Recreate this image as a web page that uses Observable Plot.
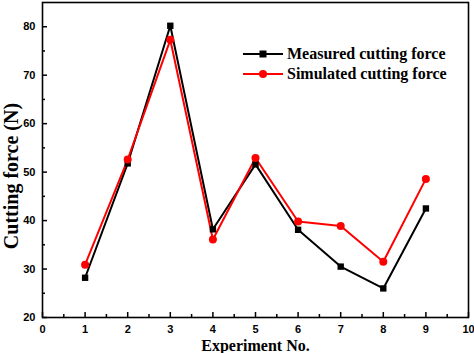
<!DOCTYPE html>
<html><head><meta charset="utf-8">
<script src="https://cdn.jsdelivr.net/npm/d3@7"></script>
<script src="https://cdn.jsdelivr.net/npm/@observablehq/plot@0.6"></script>
<style>
body{margin:0;background:#fff}
#wrap{position:relative;width:474px;height:353px}
.leg{position:absolute;left:243px;height:20px;font:bold 16px "Liberation Serif","Times New Roman",serif;display:flex;align-items:center;white-space:nowrap;color:#000}
.leg svg{margin-right:4px}
</style></head><body><div id="wrap"></div>
<script>
const experiments = [1, 2, 3, 4, 5, 6, 7, 8, 9];
const measured  = [28.2, 51.8, 80.2, 38.2, 51.6, 38.1, 30.5, 26.0, 42.5];
const simulated = [30.9, 52.6, 77.3, 36.1, 52.9, 39.8, 38.9, 31.5, 48.6];
const seriesNames = ["Measured cutting force", "Simulated cutting force"];
const xMajorTicks = [0, 1, 2, 3, 4, 5, 6, 7, 8, 9, 10];
const xMinorTicks = [0.5, 1.5, 2.5, 3.5, 4.5, 5.5, 6.5, 7.5, 8.5, 9.5];
const yMajorTicks = [20, 30, 40, 50, 60, 70, 80];
const yMinorTicks = [25, 35, 45, 55, 65, 75];
const xTitle = "Experiment No.";
const yTitle = "Cutting force (N)";

const mData = experiments.map((x, i) => ({x, y: measured[i]}));
const sData = experiments.map((x, i) => ({x, y: simulated[i]}));
const sans = "'Liberation Sans', Arial, sans-serif";
const serif = "'Liberation Serif', 'Times New Roman', serif";

const chart = Plot.plot({
  width: 474, height: 353,
  marginLeft: 42, marginRight: 6, marginTop: 2, marginBottom: 36,
  style: {fontFamily: sans, background: "#fff"},
  x: {domain: [0, 10]},
  y: {domain: [20, 85]},
  marks: [
    Plot.frame({stroke: "#000", strokeWidth: 1.6}),
    Plot.axisX({ticks: xMajorTicks, tickSize: 5, dy: -5, tickFormat: () => "", label: null, strokeWidth: 1.5}),
    Plot.axisX({ticks: xMinorTicks, tickSize: 3, dy: -3, tickFormat: () => "", label: null, strokeWidth: 1.5}),
    Plot.axisX({ticks: xMajorTicks, tickSize: 0, tickPadding: 8, tickFormat: d => d, label: null, fontSize: 11, fontWeight: "bold", fill: "#000"}),
    Plot.axisY({ticks: yMajorTicks, tickSize: 5, dx: 5, tickFormat: () => "", label: null, strokeWidth: 1.5}),
    Plot.axisY({ticks: yMinorTicks, tickSize: 3, dx: 3, tickFormat: () => "", label: null, strokeWidth: 1.5}),
    Plot.axisY({ticks: yMajorTicks, tickSize: 0, tickPadding: 7, tickFormat: d => d, label: null, fontSize: 11, fontWeight: "bold", fill: "#000"}),
    Plot.line(mData, {x: "x", y: "y", stroke: "#000", strokeWidth: 2}),
    Plot.line(sData, {x: "x", y: "y", stroke: "#ff0000", strokeWidth: 2}),
    Plot.dot(mData, {x: "x", y: "y", symbol: "square", r: 3.6, fill: "#000", stroke: "none"}),
    Plot.dot(sData, {x: "x", y: "y", symbol: "circle", r: 4, fill: "#ff0000", stroke: "none"}),
    Plot.text([xTitle], {frameAnchor: "bottom", dy: 33, textAnchor: "middle", lineAnchor: "bottom", fontSize: 16, fontWeight: "bold", fontFamily: serif, fill: "#000"}),
    Plot.text([yTitle], {frameAnchor: "left", rotate: -90, dx: -31, dy: 16, textAnchor: "middle", lineAnchor: "middle", fontSize: 20, fontWeight: "bold", fontFamily: serif, fill: "#000"})
  ]
});
const wrap = document.getElementById("wrap");
wrap.appendChild(chart);

const legendStyles = [
  {color: "#000", sym: "square"},
  {color: "#ff0000", sym: "circle"}
];
seriesNames.forEach((name, i) => {
  const row = document.createElement("div");
  row.className = "leg";
  row.style.top = (44 + i * 20) + "px";
  const st = legendStyles[i];
  const marker = st.sym === "square"
    ? `<rect x="16.5" y="1.5" width="7" height="7" fill="${st.color}"/>`
    : `<circle cx="20" cy="5" r="4" fill="${st.color}"/>`;
  row.innerHTML = `<svg width="40" height="10"><line x1="0" y1="5" x2="40" y2="5" stroke="${st.color}" stroke-width="2"/>${marker}</svg><span>${name}</span>`;
  wrap.appendChild(row);
});
</script></body></html>
